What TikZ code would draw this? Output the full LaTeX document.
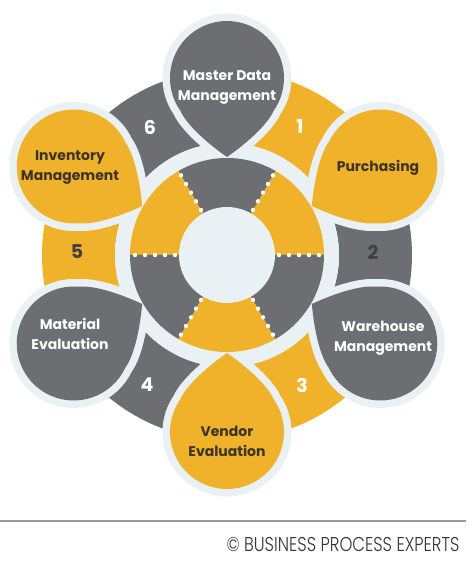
\documentclass[tikz,border=0pt]{standalone}
\usepackage{fontspec}
\setmainfont{Poppins}
\newfontfamily\footfont{Poppins Light}[FakeStretch=0.82]
\usepackage{xcolor}
\definecolor{pgray}{HTML}{6D6E71}
\definecolor{pyellow}{HTML}{F0B12B}
\definecolor{ppale}{HTML}{E9F1F4}
\definecolor{pdark}{HTML}{3A3429}

\begin{document}
\begin{tikzpicture}[x=1pt,y=1pt]
        \tikzset{halo/.style={preaction={draw=ppale,line width=15pt,line join=round}},
            lbl/.style={font=\bfseries\fontsize{14}{20}\selectfont,align=center},
            num/.style={font=\bfseries\fontsize{19}{19}\selectfont},
            rule/.style={draw=black!40,line width=1.5pt}}
        \useasboundingbox (-227,-323) rectangle (247,255);
        % numbered segments
        \foreach \a/\c in {60/pyellow,0/pgray,-60/pyellow,-120/pgray,180/pyellow,120/pgray}
            \fill[\c] (\a-30:112pt) arc[start angle=\a-30,end angle=\a+30,radius=112pt]
                -- (\a+30:185pt) arc[start angle=\a+30,end angle=\a-30,radius=185pt] -- cycle;
        \fill[ppale] (0,0) circle[radius=112pt];
        % petals
        \foreach \a/\c in {90/pgray,30/pyellow,-30/pgray,-90/pyellow,-150/pgray,150/pyellow}
            \fill[\c,halo,shift={(\a:177pt)},rotate=\a-90]
                (0,-79) .. controls (-16,-68) and (-40,-48) .. (215:57pt)
                arc[start angle=215,end angle=-35,radius=57pt]
                .. controls (40,-48) and (16,-68) .. (0,-79) -- cycle;
        % ring
        \foreach \a/\c in {0/pyellow,60/pgray,120/pyellow,180/pgray,240/pyellow,300/pgray}
            \fill[\c] (0,0) -- (\a:97pt) arc[start angle=\a,end angle=\a+60,radius=97pt] -- cycle;
        \fill[ppale] (0,0) circle[radius=48pt];
        \foreach \a in {0,60,...,300}
            \foreach \r in {52,62,...,92}
                \fill[white] (\a:\r pt) circle[radius=2.2pt];
        % labels
        \node[lbl,text=white] (master) at (0,167) {Master Data\\Management};
        \node[lbl,text=pdark] (purchasing) at (151,87) {Purchasing};
        \node[lbl,text=white] (warehouse) at (156,-83) {Warehouse\\Management};
        \node[lbl,text=pdark] (vendor) at (0,-186) {Vendor\\Evaluation};
        \node[lbl,text=white] (material) at (-157,-79) {Material\\Evaluation};
        \node[lbl,text=pdark] (inventory) at (-157,87) {Inventory\\Management};
        \node[num,text=white] (n1) at (73,128) {1};
        \node[num,text=black!75] (n2) at (146,3) {2};
        \node[num,text=white] (n3) at (75,-130) {3};
        \node[num,text=white] (n4) at (-80,-130) {4};
        \node[num,text=black!75] (n5) at (-150,3) {5};
        \node[num,text=white] (n6) at (-77,128) {6};
        % footer
        \draw[rule] (-227,-266) -- (239,-266);
        \node[anchor=east,font=\footfont\fontsize{20}{20}\selectfont,text=black!80] (credit) at (236,-289) {© BUSINESS PROCESS EXPERTS};
    \end{tikzpicture}
\end{document}
